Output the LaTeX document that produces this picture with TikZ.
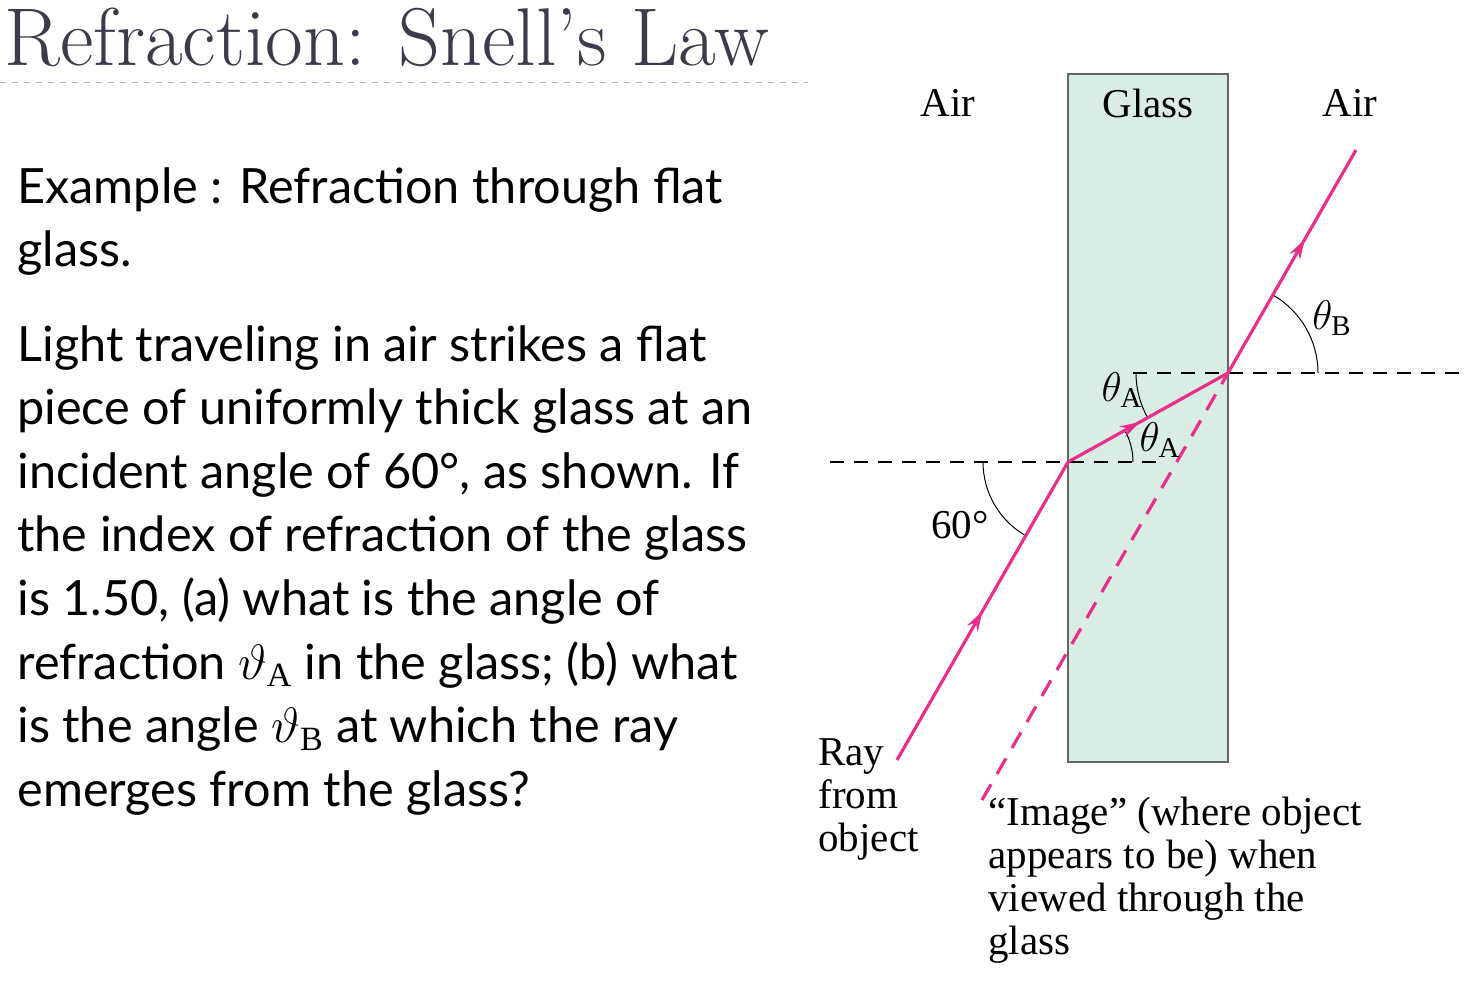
\documentclass[tikz,border=0pt]{standalone}
\usepackage{fontspec}
\setmainfont{Liberation Serif}
\newfontfamily\gill{Lato}
\newfontfamily\lmr{Latin Modern Roman}
\usetikzlibrary{decorations.markings,arrows.meta}
\definecolor{ray}{HTML}{E8308A}
\definecolor{glassc}{HTML}{D9EDE5}
\definecolor{titlec}{HTML}{3A3C4C}
\tikzset{px/.style={x=0.5pt,y=-0.5pt},
 lbl/.style={font=\fontsize{20.5}{23}\selectfont},
 body/.style={font=\gill\fontsize{24.3}{31.8}\selectfont,anchor=north west,align=left,inner sep=0},
 rayline/.style={ray,line width=1.6pt},
 midarrow/.style={postaction={decorate},decoration={markings,mark=at position #1 with {\arrow{Stealth[length=10pt,width=6pt]}}}},
 normal/.style={dash pattern=on 7pt off 5pt,line width=0.7pt}}
\begin{document}
\begin{tikzpicture}[px]
\useasboundingbox (0,0) rectangle (1473,983);
\node[anchor=west,inner sep=0,text=titlec,font=\lmr\fontsize{41}{46}\selectfont] (title) at (4,37) {Refraction: Snell’s Law};
\draw[gray!60,dashed] (0,82) coordinate (t1) -- (808,82) coordinate (t2);
\node[body] (ex) at (17,167) {Example : Refraction through flat\\glass.};
\node[body] (q) at (17,325) {Light traveling in air strikes a flat\\piece of uniformly thick glass at an\\incident angle of 60°, as shown. If\\the index of refraction of the glass\\is 1.50, (a) what is the angle of\\refraction $\vartheta_{\mathrm{A}}$ in the glass; (b) what\\is the angle $\vartheta_{\mathrm{B}}$ at which the ray\\emerges from the glass?};
\draw[fill=glassc,draw=gray!80!black,line width=0.8pt] (1068,74) rectangle (1228,762);
\node[lbl] (a1) at (948,103) {Air};
\node[lbl] (g) at (1148,103) {Glass};
\node[lbl] (a2) at (1350,103) {Air};
\coordinate (P) at (1068,462);
\coordinate (Q) at (1228,373);
\coordinate (S) at (897,760);
\coordinate (E) at (1356,150);
\coordinate (I) at (982,800);
\draw[normal] (830,462) -- (1165,462);
\draw[normal] (1133,373) -- (1468,373);
\draw[line width=0.5pt] ([shift={(180:85)}]P) arc[start angle=180,end angle=120,radius=85];
\draw[line width=0.5pt] ([shift={(0:65)}]P) arc[start angle=0,end angle=-29,radius=65];
\draw[line width=0.5pt] ([shift={(180:92)}]Q) arc[start angle=180,end angle=151,radius=92];
\draw[line width=0.5pt] ([shift={(0:90)}]Q) arc[start angle=0,end angle=-60,radius=90];
\draw[ray,line width=1.6pt,dash pattern=on 9pt off 6pt] (I) -- (Q);
\draw[rayline,midarrow=0.5] (S) -- (P);
\draw[rayline,midarrow=0.45] (P) -- (Q);
\draw[rayline,midarrow=0.6] (Q) -- (E);
\node[lbl] (l60) at (960,525) {60°};
\node[lbl] (ta1) at (1122,390) {$\theta_{\mathrm{A}}$};
\node[lbl] (ta2) at (1160,440) {$\theta_{\mathrm{A}}$};
\node[lbl] (tb) at (1332,318) {$\theta_{\mathrm{B}}$};
\node[lbl,anchor=north west,align=left,inner sep=0,font=\fontsize{20.5}{21.5}\selectfont] (ray) at (818,738) {Ray\\from\\object};
\node[lbl,anchor=north west,align=left,inner sep=0,font=\fontsize{20.5}{21.5}\selectfont] (img) at (988,797) {“Image” (where object\\appears to be) when\\viewed through the\\glass};
\end{tikzpicture}
\end{document}
